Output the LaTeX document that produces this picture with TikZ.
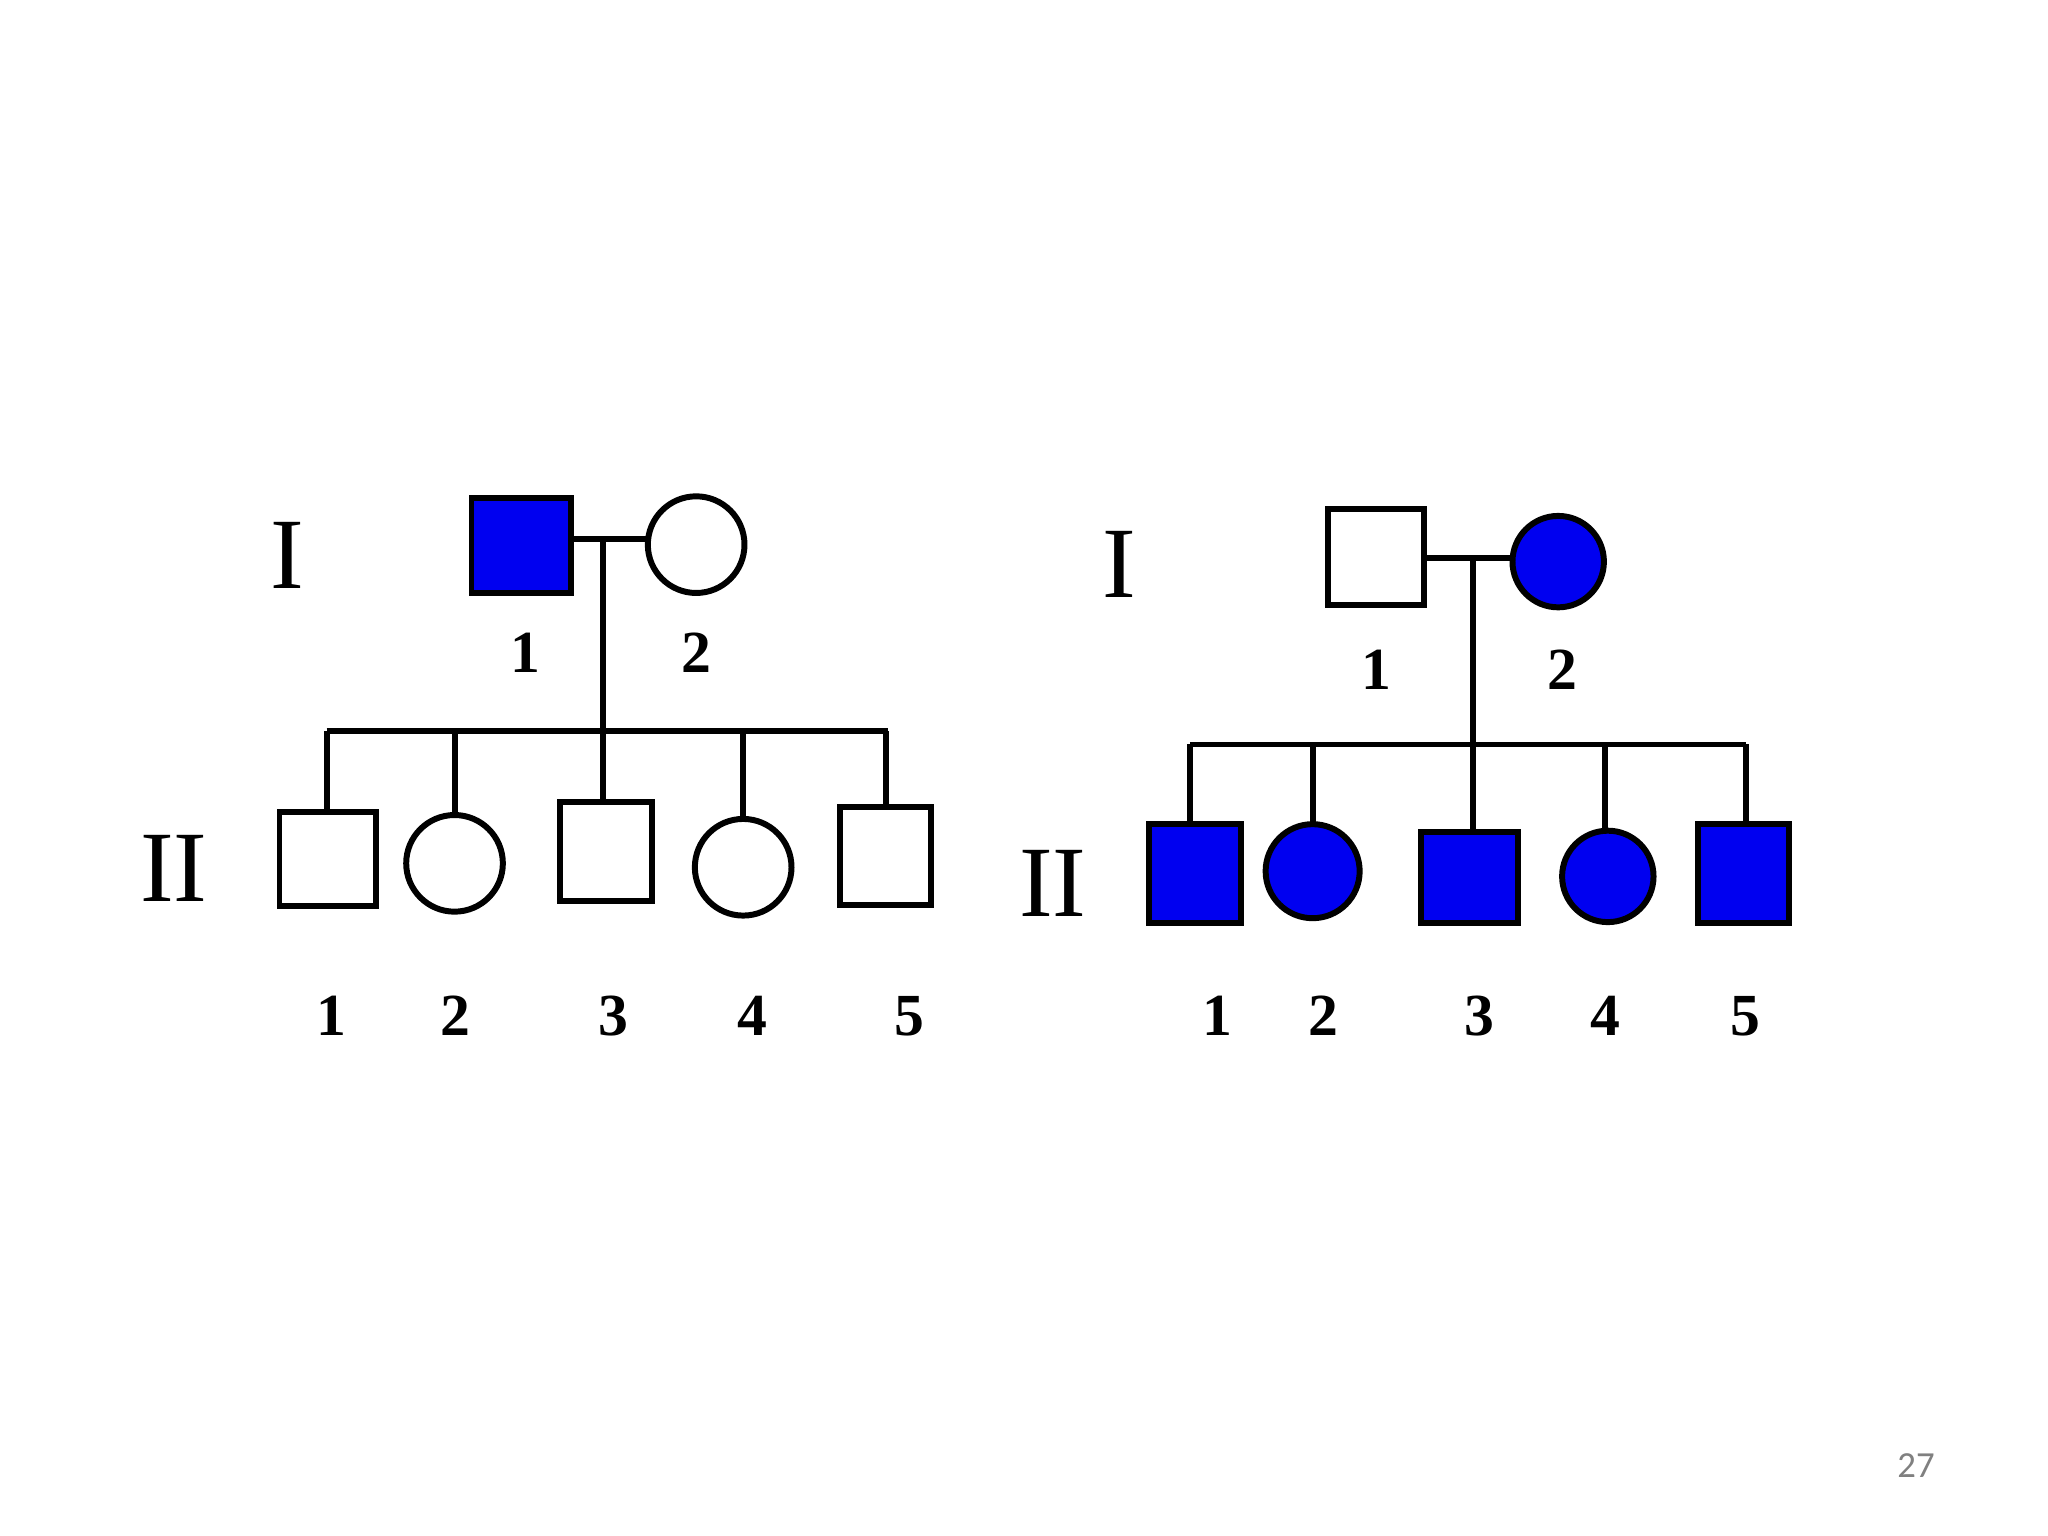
\documentclass[tikz,border=0pt]{standalone}
\usepackage{fontspec}
\setmainfont{Liberation Serif}
\newfontfamily\sansf{Carlito}
\definecolor{ablue}{RGB}{0,0,240}
\begin{document}
\begin{tikzpicture}[x=0.01cm,y=-0.01cm,
  ln/.style={line width=1.3pt,line join=miter},
  num/.style={font=\bfseries\fontsize{13}{13}\selectfont},
  gen/.style={font=\fontsize{22}{22}\selectfont}]
\useasboundingbox[fill=white] (0,0) rectangle (1568,1176);
% ---------- left ----------
\node[gen] (LgI) at (220,425) {I};
\node[gen] (LgII) at (133,665) {II};
\draw[ln,fill=ablue] (361,381) rectangle (437,454); \coordinate (LI1) at (437,413);
\draw[ln] (533,417) circle (37); \coordinate (LI2) at (496,413);
\draw[ln] (LI1) -- (LI2);
\coordinate (Lm) at (462,413); \coordinate (Ls) at (462,560);
\draw[ln] (Lm) -- (Ls);
\coordinate (LsA) at (250,560); \coordinate (LsB) at (680,560);
\draw[ln] (LsA) -- (LsB);
\node[num] (L1n) at (402,500) {1};
\node[num] (L2n) at (533,500) {2};
\draw[ln] (214,622) rectangle (288,694);
\draw[ln] (348,661) circle (37);
\draw[ln] (429,614) rectangle (499,690);
\draw[ln] (569,664) circle (37);
\draw[ln] (643,618) rectangle (713,693);
\foreach \x/\y in {250/622,348/624,462/614,569/627,678/618}{
  \draw[ln] (\x,560) -- (\x,\y);}
\foreach \x/\t in {254/1,349/2,470/3,576/4,696/5}{
  \node[num] at (\x,778) {\t};}
% ---------- right ----------
\node[gen] (RgI) at (857,432) {I};
\node[gen] (RgII) at (806,676) {II};
\draw[ln] (1017,390) rectangle (1090,463); \coordinate (RI1) at (1090,427);
\draw[ln,fill=ablue] (1193,430) circle (35); \coordinate (RI2) at (1158,427);
\draw[ln] (RI1) -- (RI2);
\draw[ln] (1128,427) -- (1128,570);
\draw[ln] (911,570) -- (1337,570);
\node[num] (R1n) at (1054,513) {1};
\node[num] (R2n) at (1196,513) {2};
\draw[ln,fill=ablue] (880,631) rectangle (950,707);
\draw[ln,fill=ablue] (1005,667) circle (36);
\draw[ln,fill=ablue] (1088,637) rectangle (1162,707);
\draw[ln,fill=ablue] (1231,671) circle (35);
\draw[ln,fill=ablue] (1300,631) rectangle (1370,707);
\foreach \x/\y in {911/631,1005/631,1128/637,1229/636,1337/631}{
  \draw[ln] (\x,570) -- (\x,\y);}
\foreach \x/\t in {932/1,1013/2,1133/3,1229/4,1336/5}{
  \node[num] at (\x,778) {\t};}
\node[font=\sansf\fontsize{8}{8}\selectfont,text=gray] (pg) at (1467,1122) {27};
\end{tikzpicture}
\end{document}
